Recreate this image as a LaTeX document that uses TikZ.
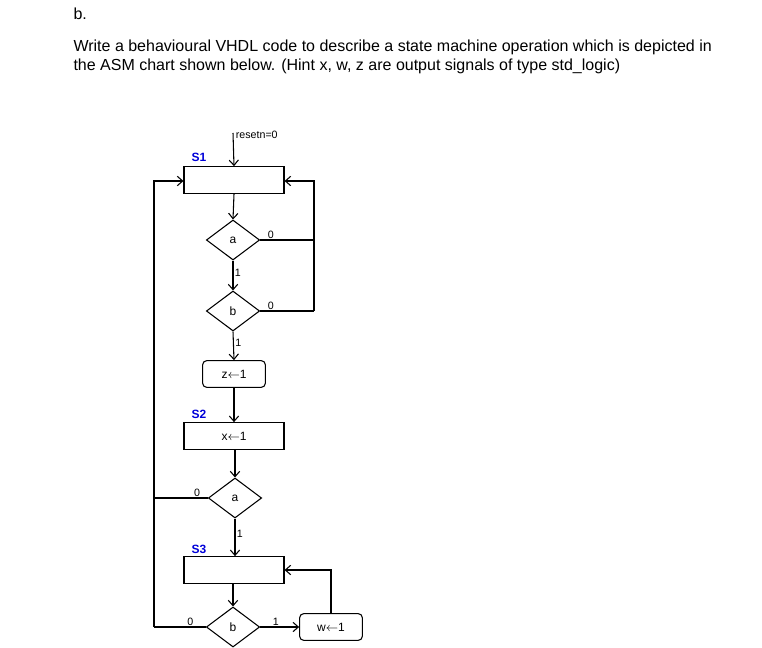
\documentclass[tikz,border=0pt]{standalone}
\usepackage{fontspec}
\setmainfont{Liberation Sans}
\usetikzlibrary{shapes.geometric,arrows.meta}
\begin{document}
\begin{tikzpicture}[x=0.75pt,y=-0.75pt,
  line width=0.8pt,
  arr/.style={-{Straight Barb[length=4pt,width=7pt]}},
  sbox/.style={draw,minimum width=75pt,minimum height=20pt,inner sep=0pt,font=\small},
  obox/.style={draw,rounded corners=3pt,minimum width=47pt,minimum height=20pt,inner sep=0pt,font=\small},
  dia/.style={draw,diamond,aspect=1.33,minimum width=40pt,minimum height=30pt,inner sep=0pt,font=\small},
  lab/.style={font=\footnotesize,inner sep=1pt},
  sl/.style={font=\small\bfseries,text=blue!85!black,inner sep=0pt}]
\useasboundingbox (0,0) rectangle (762,648);
\node[anchor=west,font=\large,inner sep=0pt] (tb) at (73,14) {b.};
\node[anchor=west,inner sep=0pt,font=\fontsize{12}{14}\selectfont] (t1) at (73,47) {Write a behavioural VHDL code to describe a state machine operation which is depicted in};
\node[anchor=west,inner sep=0pt,font=\fontsize{12}{14}\selectfont] (t2) at (73,66) {the ASM chart shown below. (Hint x, w, z are output signals of type std\_logic)};

\node[sbox] (s1) at (234,180) {};
\node[sl] (s1l) at (199,157) {S1};
\coordinate (rs) at (233,133);
\node[lab,anchor=north west] (rl) at (234,129) {resetn=0};
\draw[arr] (rs) -- (s1.north);
\node[dia] (da) at (233,240) {a};
\node[dia] (db) at (233,311) {b};
\node[obox] (z) at (234,374) {z$\leftarrow$1};
\node[sbox] (s2) at (234,436) {x$\leftarrow$1};
\node[sl] (s2l) at (199,414) {S2};
\node[dia] (da2) at (235,498) {a};
\node[sbox] (s3) at (234,570) {};
\node[sl] (s3l) at (199,549) {S3};
\node[dia] (db2) at (233,627) {b};
\node[obox] (w) at (331,627) {w$\leftarrow$1};

\coordinate (r1) at (314,240);
\coordinate (r2) at (314,311);
\coordinate (r0) at (314,181);
\coordinate (l0) at (154,181);
\coordinate (l1) at (154,498);
\coordinate (l2) at (154,627);
\coordinate (w0) at (331,570);

\draw[arr] (s1.south) -- (da.north);
\draw[arr] (da.south) -- node[lab,right,pos=0.4]{1} (db.north);
\draw[arr] (db.south) -- node[lab,right,pos=0.4]{1} (z.north);
\draw[arr] (z.south) -- (s2.north);
\draw[arr] (s2.south -| da2.north) -- (da2.north);
\draw[arr] (da2.south) -- node[lab,right,pos=0.4]{1} (s3.north -| da2.south);
\draw[arr] (s3.south -| db2.north) -- (db2.north);
\draw (da.east) -- node[lab,above,pos=0.2]{0} (r1);
\draw (db.east) -- node[lab,above,pos=0.2]{0} (r2);
\draw[arr] (r2) -- (r0) -- (s1.east |- r0);
\draw (da2.west) -- node[lab,above,pos=0.2]{0} (l1);
\draw (db2.west) -- node[lab,above,pos=0.3]{0} (l2);
\draw[arr] (l2) -- (l0) -- (s1.west |- l0);
\draw[arr] (db2.east) -- node[lab,above,pos=0.4]{1} (w.west);
\draw[arr] (w.north) -- (w0) -- (s3.east |- w0);
\end{tikzpicture}
\end{document}
